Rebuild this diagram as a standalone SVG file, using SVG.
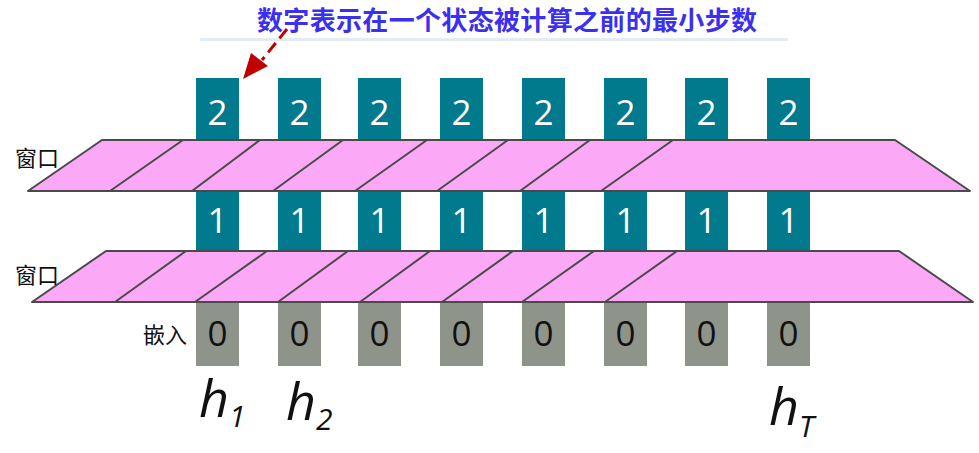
<svg xmlns="http://www.w3.org/2000/svg" width="979" height="453" viewBox="0 0 979 453">
<style>
.b2{fill:#007a8c}
.b0{fill:#8f948a}
.n{font-family:"Open Sans","Liberation Sans",sans-serif;font-size:35px;text-anchor:middle}
.w{fill:#ffffff}
.k{fill:#111111}
.win{fill:#fba9f7;stroke:#4a4a4a;stroke-width:2;stroke-linejoin:round}
.div{stroke:#4a4a4a;stroke-width:2;fill:none}
.lbl{font-family:"Noto Sans CJK SC","Liberation Serif",serif;font-size:22px;fill:#111}
.h{font-family:"Open Sans","Liberation Sans",sans-serif;font-style:italic;fill:#111}
</style>
<rect width="979" height="453" fill="#ffffff"/>

<g id="title">
<rect x="200" y="36" width="588" height="5" fill="#e3ebf3"/>
<rect x="200" y="0" width="588" height="38" fill="#ffffff"/>
<text x="507" y="29.5" font-family="Noto Sans CJK SC, sans-serif" font-size="26" font-weight="bold" fill="#3b2ff0" text-anchor="middle" textLength="500" lengthAdjust="spacing">数字表示在一个状态被计算之前的最小步数</text>
</g>

<g id="connectors">
<line x1="287" y1="29" x2="262" y2="60" stroke="#c00000" stroke-width="3" stroke-dasharray="12,6"/>
<path d="M243,79 L251,53 L268,66 z" fill="#c00000"/>
</g>

<g id="layer2">
<rect class="b2" x="196" y="78" width="43" height="62"/>
<rect class="b2" x="278" y="78" width="43" height="62"/>
<rect class="b2" x="358" y="78" width="43" height="62"/>
<rect class="b2" x="440" y="78" width="43" height="62"/>
<rect class="b2" x="522" y="78" width="43" height="62"/>
<rect class="b2" x="604" y="78" width="43" height="62"/>
<rect class="b2" x="685" y="78" width="43" height="62"/>
<rect class="b2" x="767" y="78" width="43" height="62"/>
<text class="n w" x="217.5" y="125">2</text>
<text class="n w" x="299.5" y="125">2</text>
<text class="n w" x="379.5" y="125">2</text>
<text class="n w" x="461.5" y="125">2</text>
<text class="n w" x="543.5" y="125">2</text>
<text class="n w" x="625.5" y="125">2</text>
<text class="n w" x="706.5" y="125">2</text>
<text class="n w" x="788.5" y="125">2</text>
</g>

<g id="layer1">
<rect class="b2" x="196" y="191" width="43" height="60"/>
<rect class="b2" x="278" y="191" width="43" height="60"/>
<rect class="b2" x="358" y="191" width="43" height="60"/>
<rect class="b2" x="440" y="191" width="43" height="60"/>
<rect class="b2" x="522" y="191" width="43" height="60"/>
<rect class="b2" x="604" y="191" width="43" height="60"/>
<rect class="b2" x="685" y="191" width="43" height="60"/>
<rect class="b2" x="767" y="191" width="43" height="60"/>
<text class="n w" x="217.5" y="233">1</text>
<text class="n w" x="299.5" y="233">1</text>
<text class="n w" x="379.5" y="233">1</text>
<text class="n w" x="461.5" y="233">1</text>
<text class="n w" x="543.5" y="233">1</text>
<text class="n w" x="625.5" y="233">1</text>
<text class="n w" x="706.5" y="233">1</text>
<text class="n w" x="788.5" y="233">1</text>
</g>

<g id="layer0">
<rect class="b0" x="196" y="302" width="43" height="64"/>
<rect class="b0" x="278" y="302" width="43" height="64"/>
<rect class="b0" x="358" y="302" width="43" height="64"/>
<rect class="b0" x="440" y="302" width="43" height="64"/>
<rect class="b0" x="522" y="302" width="43" height="64"/>
<rect class="b0" x="604" y="302" width="43" height="64"/>
<rect class="b0" x="685" y="302" width="43" height="64"/>
<rect class="b0" x="767" y="302" width="43" height="64"/>
<text class="n k" x="217.5" y="346">0</text>
<text class="n k" x="299.5" y="346">0</text>
<text class="n k" x="379.5" y="346">0</text>
<text class="n k" x="461.5" y="346">0</text>
<text class="n k" x="543.5" y="346">0</text>
<text class="n k" x="625.5" y="346">0</text>
<text class="n k" x="706.5" y="346">0</text>
<text class="n k" x="788.5" y="346">0</text>
</g>

<g id="window-upper">
<polygon class="win" points="102,140 895,140 970,191 28,191"/>
<path class="div" d="M110,191 L183,140 M192,191 L260,140 M273,191 L343,140 M355,191 L427,140 M437,191 L508,140 M520,191 L590,140 M601,191 L673,140"/>
<text class="lbl" x="15" y="166">窗口</text>
</g>

<g id="window-lower">
<polygon class="win" points="106,251 899,251 973,302 32,302"/>
<path class="div" d="M115,302 L186,251 M195,302 L267,251 M278,302 L348,251 M360,302 L430,251 M442,302 L513,251 M522,302 L594,251 M605,302 L677,251"/>
<text class="lbl" x="15" y="283">窗口</text>
</g>

<g id="embed-label">
<text class="lbl" x="143" y="343">嵌入</text>
</g>

<g id="h-labels">
<text class="h" x="199" y="417" font-size="52">h<tspan font-size="30" dy="10">1</tspan></text>
<text class="h" x="286" y="420" font-size="52">h<tspan font-size="30" dy="10">2</tspan></text>
<text class="h" x="769" y="425" font-size="52">h<tspan font-size="30" dy="12">T</tspan></text>
</g>
</svg>
